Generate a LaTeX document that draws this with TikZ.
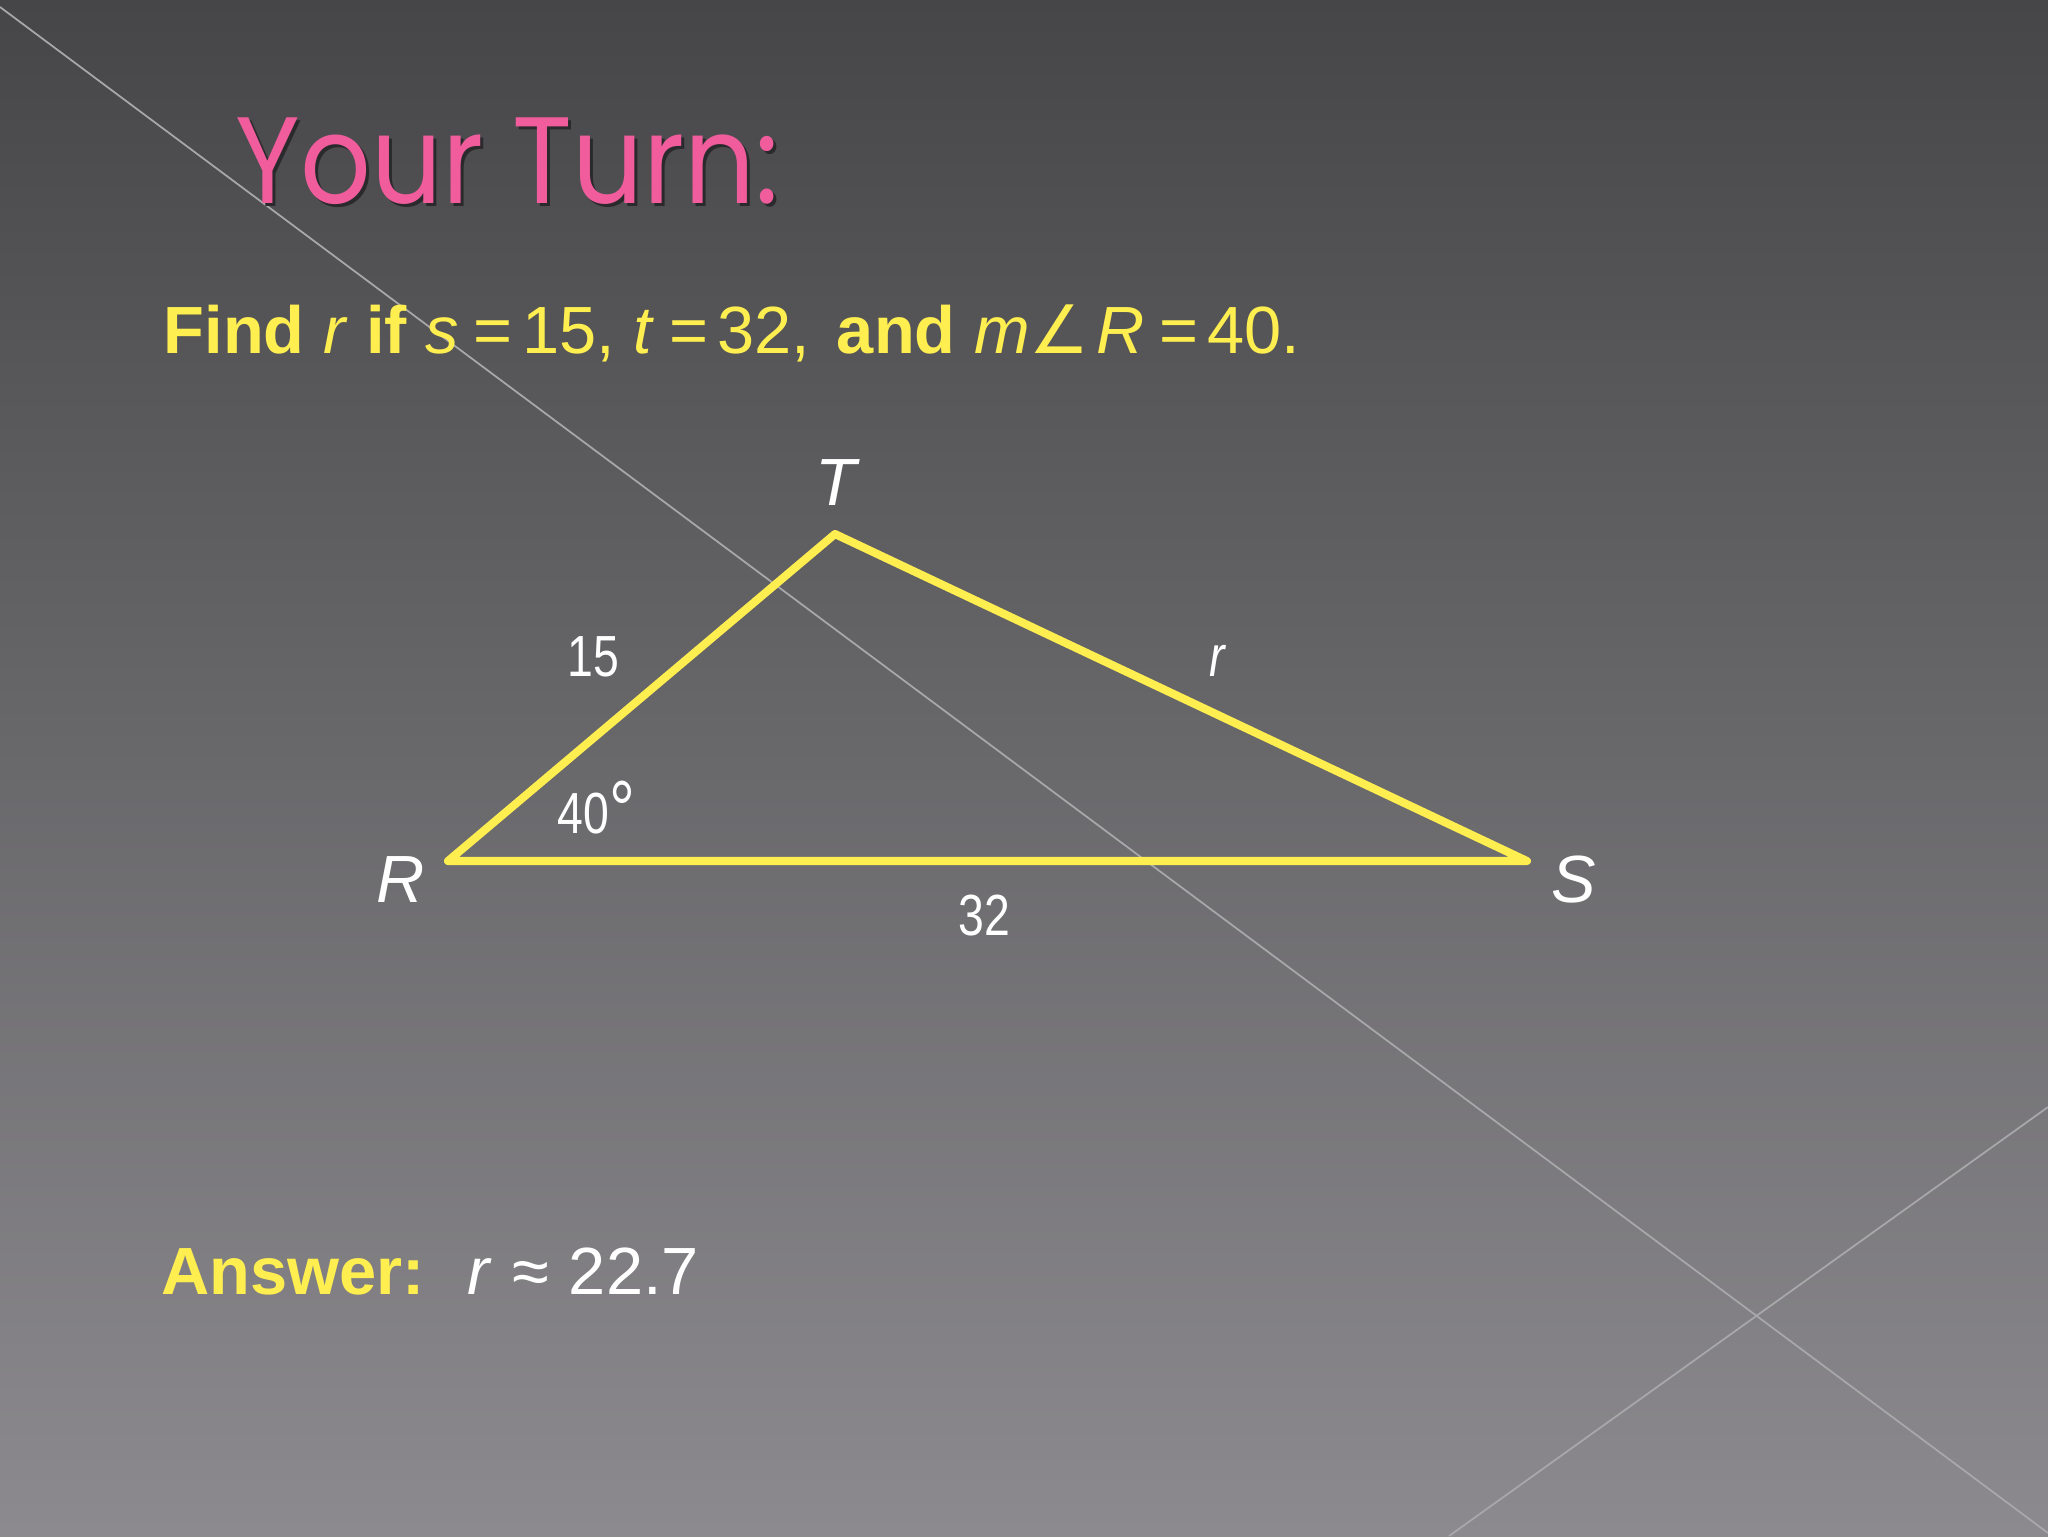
\documentclass[tikz,border=0pt]{standalone}
\usepackage{fontspec}
\setmainfont{Liberation Sans}
\newfontfamily\titlefont[FakeStretch=0.9]{Poppins}
\newfontfamily\narrowfont[FakeStretch=0.8]{Liberation Sans}
\newfontfamily\symbolfont{DejaVu Sans}
\definecolor{bgtop}{RGB}{70,70,72}
\definecolor{bgbot}{RGB}{140,138,142}
\definecolor{titlepink}{RGB}{240,92,156}
\definecolor{titleshade}{RGB}{42,42,44}
\definecolor{hiyellow}{RGB}{255,238,80}
\definecolor{gridline}{RGB}{168,168,170}
\tikzset{
  lbl/.style={text=white, font=\narrowfont\fontsize{16.5}{18}\selectfont, inner sep=0pt, anchor=base},
  vtx/.style={text=white, font=\itshape\fontsize{19}{22}\selectfont, inner sep=0pt, anchor=base},
  side/.style={draw=hiyellow, line width=2.3pt, line join=round},
  rule/.style={draw=gridline, line width=0.5pt},
  txt/.style={inner sep=0pt, anchor=base west, font=\fontsize{19}{22}\selectfont},
  ttl/.style={inner sep=0pt, anchor=base west, font=\titlefont\fontsize{35}{40}\selectfont},
}
\newcommand{\eqsign}{\kern.22em=\kern.14em}
\begin{document}
\begin{tikzpicture}[x=0.1mm,y=-0.1mm]
\useasboundingbox (0,0) rectangle (2048,1536);
\shade[top color=bgtop, bottom color=bgbot] (0,0) rectangle (2048,1536);
\coordinate (la) at (0,7);
\coordinate (lb) at (2048,1533);
\coordinate (lc) at (2048,1107);
\coordinate (ld) at (1449,1536);
\draw[rule] (la) -- (lb);
\draw[rule] (lc) -- (ld);

\node[ttl, text=titleshade] (titleshd) at (238,206) {Your Turn:};
\node[ttl, text=titlepink] (title) at (235,203) {Your Turn:};
\node[txt, text=hiyellow] (task) at (163,353) {\textbf{Find} \textit{r} \textbf{if} \textit{s}\eqsign 15, \textit{t}\eqsign 32,\kern.4em\textbf{and} \textit{m}{\symbolfont\itshape ∠}\kern.1em\textit{R}\eqsign 40.};

\coordinate (vR) at (448,861);
\coordinate (vT) at (835,534);
\coordinate (vS) at (1527,861);
\draw[side] (vR) -- (vT) -- (vS) -- cycle;
\node[vtx] (nT) at (836,505) {T};
\node[vtx] (nR) at (401,902) {R};
\node[vtx] (nS) at (1574,902) {S};
\node[lbl] (s15) at (593,676) {15};
\node[lbl, font=\narrowfont\itshape\fontsize{16.5}{18}\selectfont] (sr) at (1217,676) {r};
\node[lbl, anchor=base west] (ang) at (557,833) {40\raisebox{-.08em}{\fontsize{23}{23}\selectfont °}};
\node[lbl] (s32) at (984,935) {32};

\node[txt, text=hiyellow] (ans) at (161,1294) {\textbf{Answer:}};
\node[txt, text=white] (ansval) at (467,1294) {\textit{r}\kern.3em≈\kern.3em22.7};
\end{tikzpicture}
\end{document}
